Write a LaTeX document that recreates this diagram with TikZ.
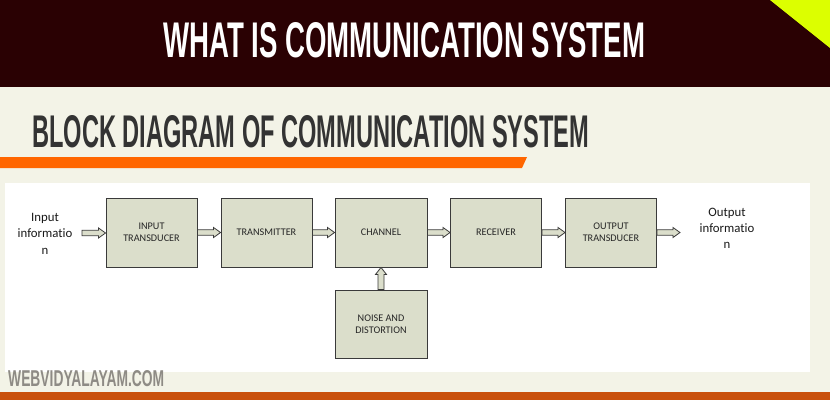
\documentclass[tikz,border=0pt]{standalone}
\usepackage{fontspec}
\setmainfont{Carlito}[Ligatures={NoCommon}]
\newfontfamily\headfont{Liberation Sans}
\usetikzlibrary{calc}
\definecolor{band}{HTML}{2A0103}
\definecolor{cream}{HTML}{F3F3E7}
\definecolor{lime}{HTML}{DCFF00}
\definecolor{orangebar}{HTML}{FF6600}
\definecolor{bottombar}{HTML}{C9500C}
\definecolor{boxfill}{HTML}{DBDECB}
\definecolor{boxline}{HTML}{3A3A3A}
\definecolor{subtitle}{HTML}{333333}
\definecolor{mark}{HTML}{8E8B85}
\newcommand\blkH[2]{%
  \filldraw[blockarrow] let \p1=(#1), \p2=(#2) in
    (\x1,\y1+2.7pt) -- (\x2-7pt,\y1+2.7pt) -- (\x2-7pt,\y1+5pt) -- (\x2,\y1)
    -- (\x2-7pt,\y1-5pt) -- (\x2-7pt,\y1-2.7pt) -- (\x1,\y1-2.7pt) -- cycle;}
\newcommand\blkV[2]{%
  \filldraw[blockarrow] let \p1=(#1), \p2=(#2) in
    (\x1-3pt,\y1) -- (\x1-3pt,\y2-7pt) -- (\x1-5.5pt,\y2-7pt) -- (\x1,\y2)
    -- (\x1+5.5pt,\y2-7pt) -- (\x1+3pt,\y2-7pt) -- (\x1+3pt,\y1) -- cycle;}
\begin{document}
\begin{tikzpicture}[x=1pt,y=-1pt,
  blk/.style={draw=boxline, fill=boxfill, line width=0.9pt, minimum width=91pt,
    minimum height=69pt, inner sep=0pt, align=center,
    font=\fontsize{10.2}{12}\selectfont, text=black!85},
  blockarrow/.style={draw=boxline, fill=boxfill, line width=0.8pt, line join=miter},
  side/.style={align=center, font=\fontsize{12.8}{16.5}\selectfont, text=black!90, inner sep=0pt}]
\useasboundingbox (0,0) rectangle (830,400);
\fill[cream] (0,0) rectangle (830,400);
\fill[band] (0,0) rectangle (830,87);
\fill[lime] (770,0) -- (830,0) -- (830,48) -- cycle;
\node[anchor=north west, inner sep=0pt, text=white] (title) at (163,22)
  {\resizebox{482pt}{35pt}{\headfont\bfseries WHAT IS COMMUNICATION SYSTEM}};
\node[anchor=north west, inner sep=0pt, text=subtitle] (sub) at (32,115)
  {\resizebox{557pt}{32pt}{\headfont\bfseries BLOCK DIAGRAM OF COMMUNICATION SYSTEM}};
\fill[orangebar] (0,157) -- (527,157) -- (522,168) -- (0,168) -- cycle;
\fill[white] (5,183) rectangle (810,372);
\fill[bottombar] (0,392) rectangle (830,400);
\node[anchor=north west, inner sep=0pt, text=mark] (web) at (8,370)
  {\resizebox{156pt}{16pt}{\headfont\bfseries WEBVIDYALAYAM.COM}};
% blocks
\node[blk] (inp) at (151.5,232.5) {INPUT\\TRANSDUCER};
\node[blk] (tx) at (266.5,232.5) {TRANSMITTER};
\node[blk, minimum width=92pt] (ch) at (381,232.5) {CHANNEL};
\node[blk] (rx) at (496,232.5) {RECEIVER};
\node[blk] (outt) at (611,232.5) {OUTPUT\\TRANSDUCER};
\node[blk, minimum width=92pt, minimum height=68pt] (noise) at (381,324) {NOISE AND\\DISTORTION};
% side texts
\node[side] (intext) at (45,233.5) {Input\\informat\kern0pt io\\n};
\node[side, font=\fontsize{12.8}{16}\selectfont] (outtext) at (727,228.5) {Output\\informat\kern0pt io\\n};
\coordinate (instart) at (82,233);
\coordinate (outend) at (680,233);
% arrows
\blkH{instart}{inp.west}
\blkH{inp.east}{tx.west}
\blkH{tx.east}{ch.west}
\blkH{ch.east}{rx.west}
\blkH{rx.east}{outt.west}
\blkH{outt.east}{outend}
\blkV{noise.north}{ch.south}
\end{tikzpicture}
\end{document}
